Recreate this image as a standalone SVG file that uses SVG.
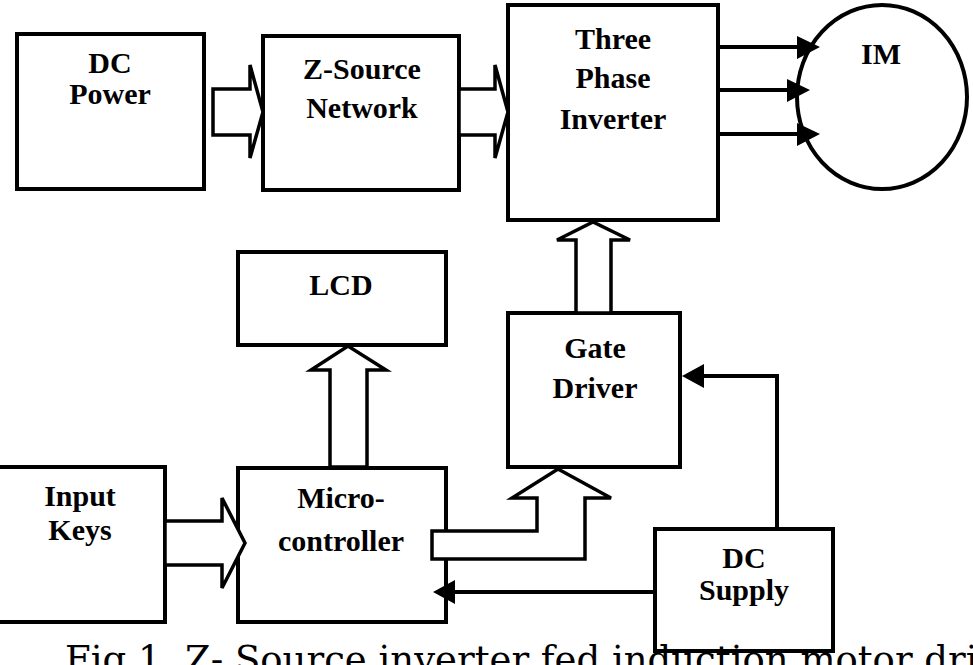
<svg xmlns="http://www.w3.org/2000/svg" width="973" height="665" viewBox="0 0 973 665">
<style>
.b{fill:#fff;stroke:#000;stroke-width:4}
.a{fill:#fff;stroke:#000;stroke-width:3.5;stroke-linejoin:miter}
.l{fill:none;stroke:#000;stroke-width:4}
.h{fill:#000}
text{font-family:"Liberation Serif","DejaVu Serif",serif;font-weight:bold;font-size:30px;text-anchor:middle;fill:#000}
.c{font-family:"DejaVu Serif","Liberation Serif",serif;font-weight:normal;font-size:37px;text-anchor:start}
</style>
<g id="dcpower"><rect class="b" x="17" y="34" width="187" height="155"/><text x="110" y="73">DC</text><text x="110" y="104">Power</text></g>
<g id="zsource"><rect class="b" x="263" y="36" width="196" height="154"/><text x="362" y="79">Z-Source</text><text x="362" y="118">Network</text></g>
<g id="inverter"><rect class="b" x="508" y="5" width="210" height="215"/><text x="613" y="49">Three</text><text x="613" y="88">Phase</text><text x="613" y="129">Inverter</text></g>
<g id="im"><ellipse class="b" cx="882" cy="97" rx="85" ry="92"/><text x="881" y="64">IM</text></g>
<g id="lcd"><rect class="b" x="238" y="252" width="208" height="93"/><text x="341" y="295">LCD</text></g>
<g id="gatedriver"><rect class="b" x="508" y="313" width="172" height="154"/><text x="595" y="358">Gate</text><text x="595" y="398">Driver</text></g>
<g id="inputkeys"><rect class="b" x="-2" y="467" width="167" height="155"/><text x="80" y="506">Input</text><text x="80" y="540">Keys</text></g>
<g id="micro"><rect class="b" x="238" y="468" width="208" height="154"/><text x="341" y="508">Micro-</text><text x="341" y="551">controller</text></g>
<g id="dcsupply"><rect class="b" x="655" y="529" width="178" height="122"/><text x="744" y="568">DC</text><text x="744" y="600">Supply</text></g>
<g id="connectors">
<path class="a" d="M213 89H250V65L263 112L250 158V135H213Z"/>
<path class="a" d="M459 89H495V65L508 112L495 158V135H459Z"/>
<path class="l" d="M718 47H800M718 90H790M718 134H800"/>
<path class="h" d="M797 36L820 47L797 59Z M787 79L810 90L787 102Z M797 123L820 134L797 146Z"/>
<path class="a" d="M576 313V240H557L593 222L630 240H611V313Z"/>
<path class="a" d="M330 467V370H311L348 346L386 370H367V467Z"/>
<path class="a" d="M165 521H222V498L245 543L222 588V565H165Z"/>
<path class="a" d="M432 531H537V498H512L558 469L611 498H585V559H432Z"/>
<path class="l" d="M777 529V376H700"/>
<path class="h" d="M682 376L704 364V388Z"/>
<path class="l" d="M655 592H452"/>
<path class="h" d="M433 592L455 580V604Z"/>
</g>
<text class="c" x="65" y="672">Fig.1. Z- Source inverter fed induction motor drive</text>
</svg>
